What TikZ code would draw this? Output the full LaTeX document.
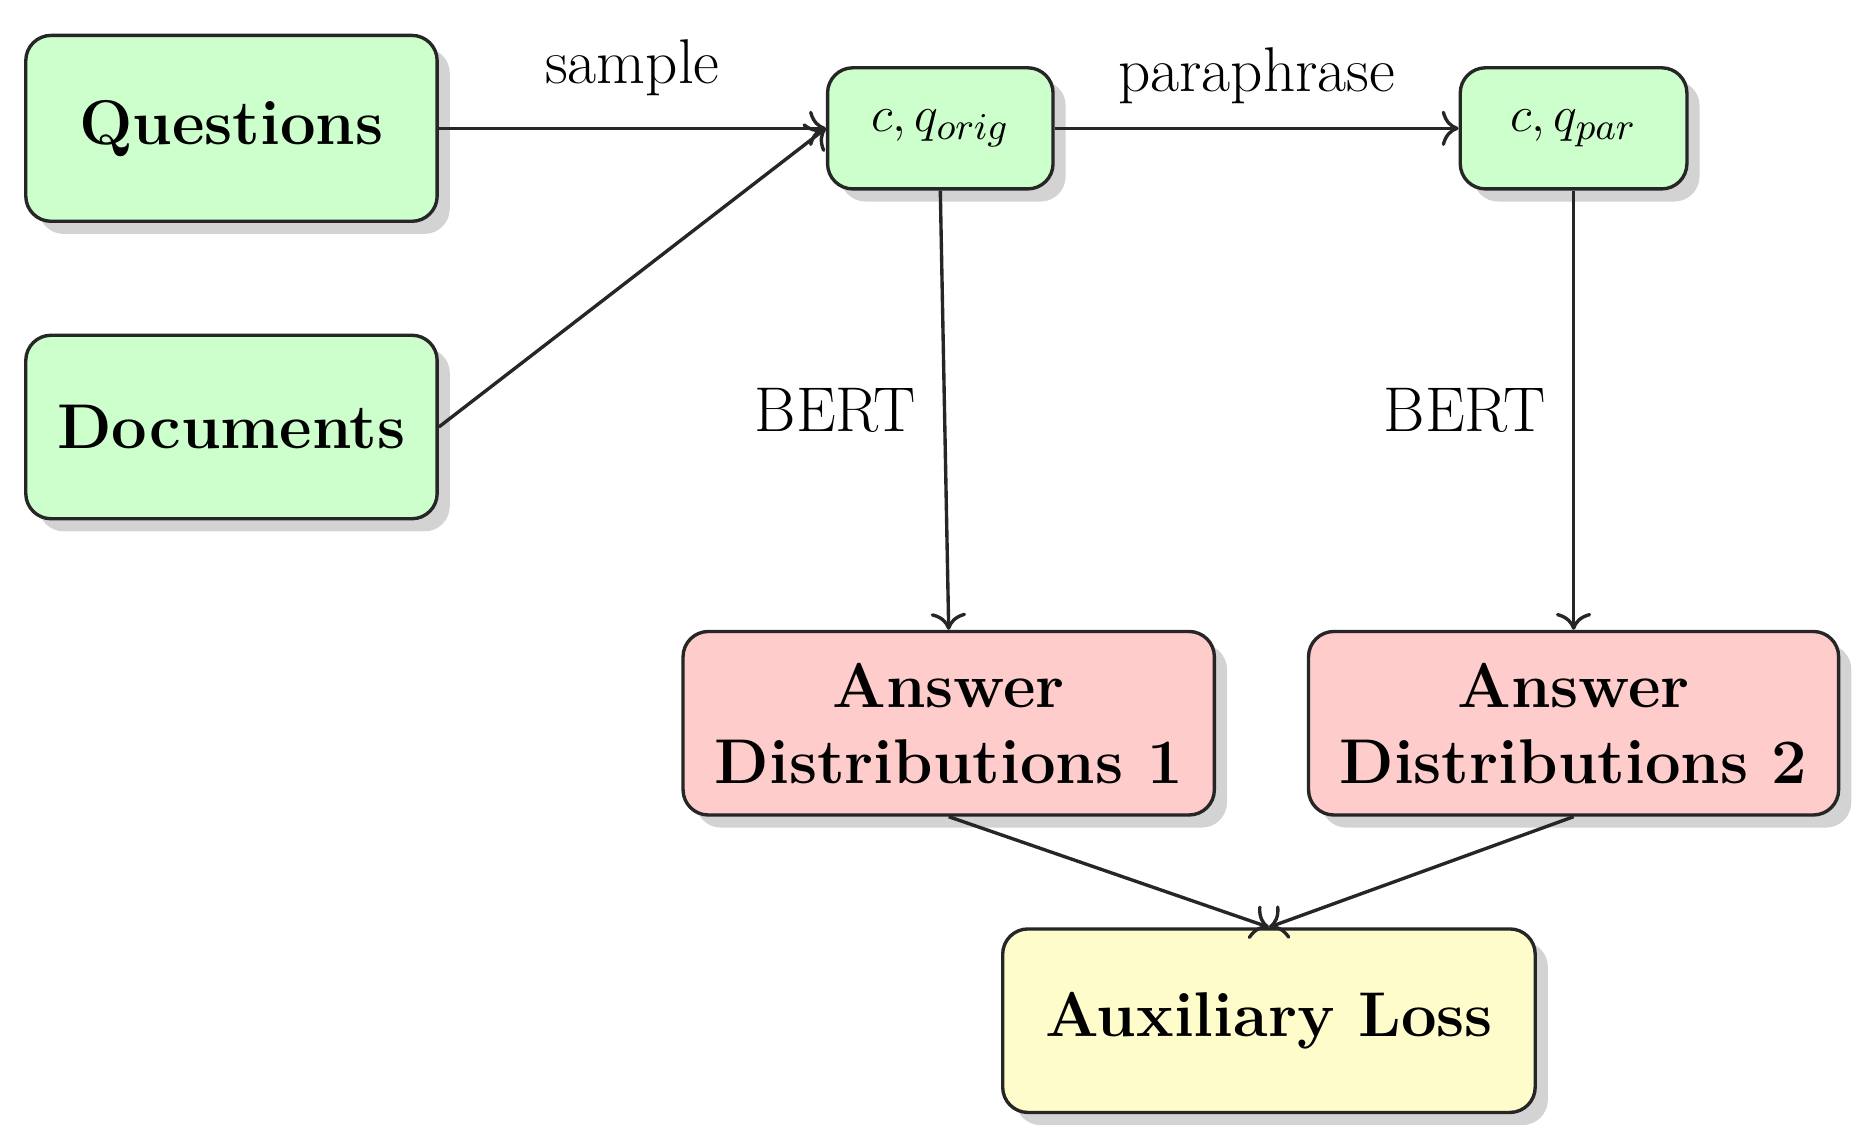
\documentclass[tikz,border=0pt]{standalone}
\usetikzlibrary{shadows,arrows.meta}
\begin{document}
\begin{tikzpicture}[x=1cm,y=1cm,
  box/.style={draw=black!85,thick,rounded corners=6pt,inner sep=2pt,drop shadow={shadow xshift=3pt,shadow yshift=-3pt,opacity=0.35},align=center,font=\fontsize{15}{18}\selectfont\bfseries},
  gbox/.style={box,fill=green!20},
  rbox/.style={box,fill=red!20},
  ybox/.style={box,fill=yellow!20},
  conn/.style={draw=black!85,thick,-{To[length=4pt]}},
  lab/.style={font=\fontsize{15}{18}\selectfont}]
\useasboundingbox (0,0) rectangle (15.6,-9.57);
\node[gbox,minimum width=3.43cm,minimum height=1.55cm] (q) at (1.93,-1.07) {Questions};
\node[gbox,minimum width=3.43cm,minimum height=1.53cm] (d) at (1.93,-3.56) {Documents};
\node[gbox,minimum width=1.88cm,minimum height=1.01cm,font=\fontsize{13}{16}\selectfont] (o) at (7.84,-1.07) {$c,q_{orig}$};
\node[gbox,minimum width=1.89cm,minimum height=1.01cm,font=\fontsize{13}{16}\selectfont] (p) at (13.12,-1.07) {$c,q_{par}$};
\node[rbox,minimum width=4.43cm,minimum height=1.53cm] (a1) at (7.91,-6.03) {Answer\\Distributions 1};
\node[rbox,minimum width=4.42cm,minimum height=1.53cm] (a2) at (13.12,-6.03) {Answer\\Distributions 2};
\node[ybox,minimum width=4.44cm,minimum height=1.53cm] (x) at (10.58,-8.51) {Auxiliary Loss};
\draw[conn] (q.east) -- node[lab,above=4pt]{sample} (o.west);
\draw[conn] (d.east) -- (o.west);
\draw[conn] (o.east) -- node[lab,above=2pt]{paraphrase} (p.west);
\draw[conn] (o.south) -- node[lab,left=3pt]{BERT} (a1.north);
\draw[conn] (p.south) -- node[lab,left=3pt]{BERT} (a2.north);
\draw[conn] (a1.south) -- (x.north);
\draw[conn] (a2.south) -- (x.north);
\end{tikzpicture}
\end{document}
